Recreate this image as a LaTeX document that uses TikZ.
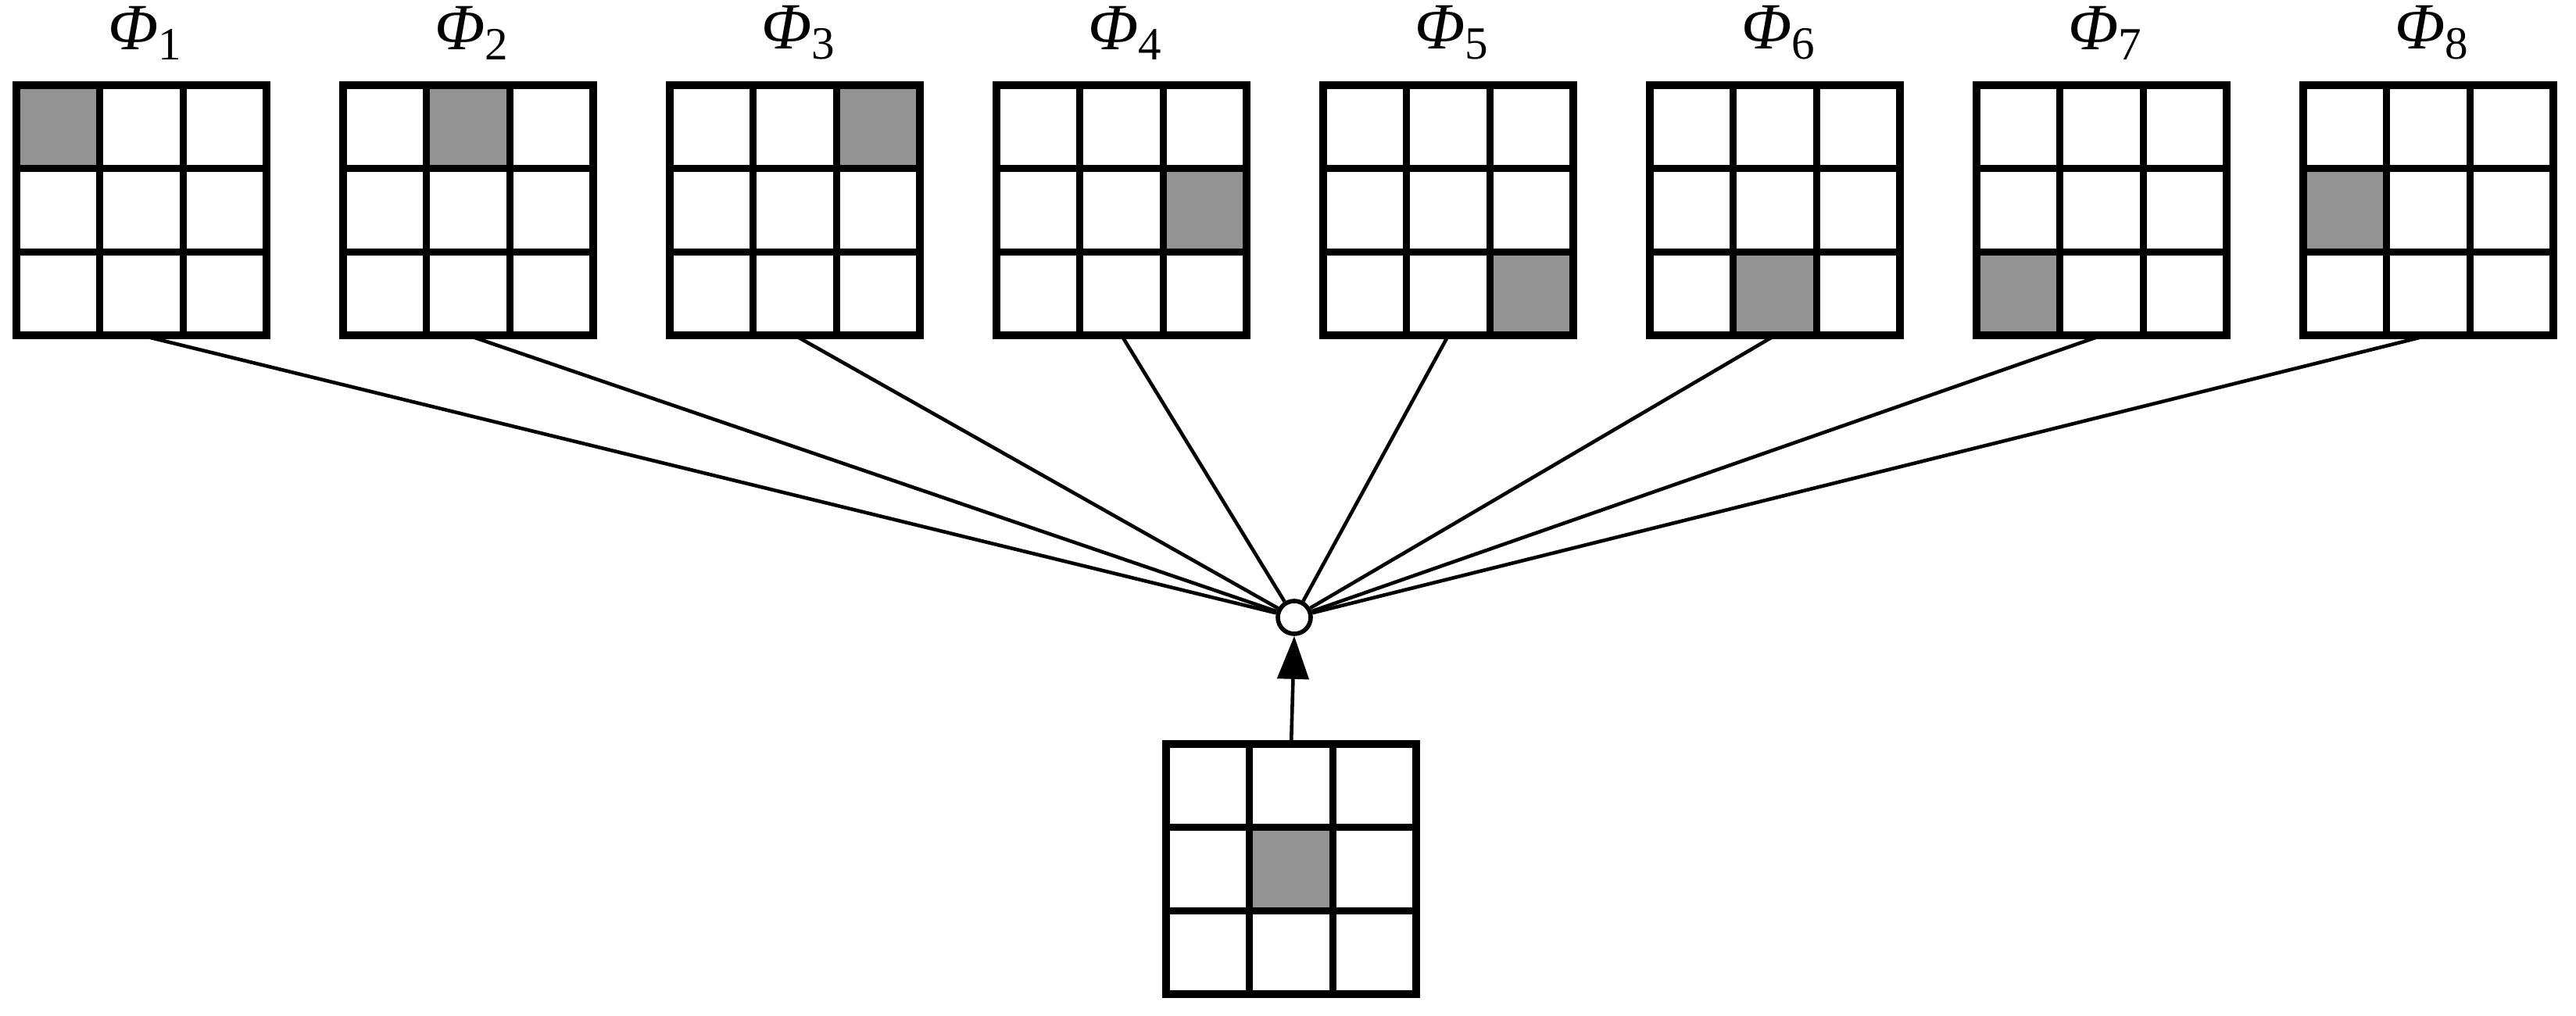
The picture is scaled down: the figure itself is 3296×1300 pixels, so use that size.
\documentclass[tikz,border=0pt]{standalone}
\usepackage{fontspec}
\setmainfont{Liberation Serif}
\usetikzlibrary{arrows.meta}
\begin{document}
\begin{tikzpicture}[x=0.01cm,y=-0.01cm,
  gridbox/.style={draw=none,minimum size=3.2cm,inner sep=0pt,outer sep=0pt},
  gl/.style={line width=2.6pt},
  conn/.style={line width=1.3pt},
  lab/.style={font=\fontsize{24}{24}\selectfont}]
\useasboundingbox (0,0) rectangle (3296,1300);
\foreach \i/\c/\r in {1/0/0,2/1/0,3/2/0,4/2/1,5/2/2,6/1/2,7/0/2,8/0/1}{
  \pgfmathsetmacro{\gx}{21+418*(\i-1)}
  \node[gridbox,anchor=north west] (g\i) at (\gx,109) {};
  \fill[gray!85] ({\gx+106.67*\c},{109+106.67*\r}) rectangle ++(106.67,106.67);
  \draw[gl] (\gx,109) rectangle ++(320,320);
  \draw[gl] ({\gx+106.67},109) -- ++(0,320) ({\gx+213.33},109) -- ++(0,320)
            (\gx,215.67) -- ++(320,0) (\gx,322.33) -- ++(320,0);
  \node[lab] (l\i) at ({\gx+165},42) {\textit{Φ}\textsubscript{\i}};
}
\node[circle,draw,line width=1.6pt,minimum size=0.42cm,inner sep=0pt] (c) at (1656,790) {};
\node[gridbox,anchor=north west] (b) at (1492,952) {};
\fill[gray!85] (1598.67,1058.67) rectangle ++(106.67,106.67);
\draw[gl] (1492,952) rectangle ++(320,320);
\draw[gl] (1598.67,952) -- ++(0,320) (1705.33,952) -- ++(0,320)
          (1492,1058.67) -- ++(320,0) (1492,1165.33) -- ++(320,0);
\foreach \i in {1,...,8}{\draw[conn] (g\i.south) -- (c);}
\draw[conn,-{Triangle[length=0.55cm,width=0.4cm]}] (b.north) -- (c.south);
\end{tikzpicture}
\end{document}
